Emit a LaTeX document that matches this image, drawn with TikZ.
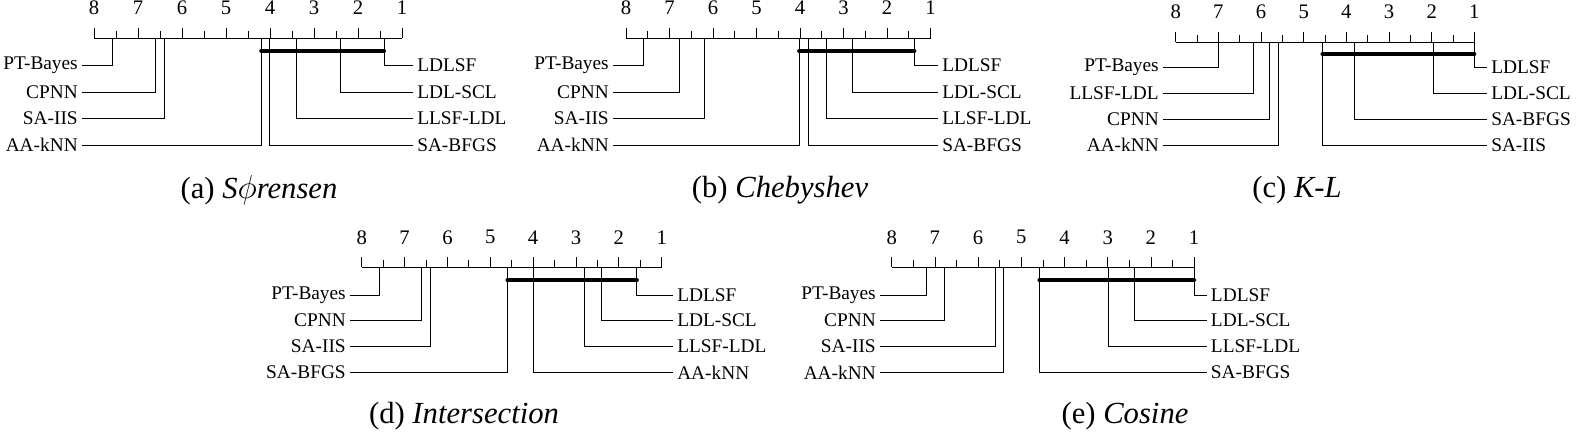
\documentclass[tikz,border=0pt]{standalone}
\usepackage{fontspec}
\setmainfont{Liberation Serif}
\tikzset{lab/.style={font=\fontsize{14.5}{14.5}\selectfont,inner sep=3pt},
 ticklab/.style={font=\fontsize{15.5}{15.5}\selectfont,inner sep=0pt},
 captext/.style={font=\fontsize{23}{23}\selectfont,inner sep=0pt},
 cdbar/.style={line width=3pt,line cap=round},
 thinl/.style={line width=0.6pt}}
\newcommand\cdset[5]{\def\px{#1}\def\pu{#2}\def\py{#3}\def\pl{#4}\def\pr{#5}}
\newcommand\cdaxis{%
 \draw[thinl] (\px,\py) -- ({\px+7*\pu},\py);
 \foreach \i in {0,...,7}{%
  \pgfmathtruncatemacro\lbl{8-\i}
  \draw[thinl] ({\px+\i*\pu},\py) -- ++(0,-10);
  \node[ticklab] at ({\px+\i*\pu},{\py-30}) {\lbl};}
 \foreach \i in {0,...,6}{\draw[thinl] ({\px+(\i+0.5)*\pu},\py) -- ++(0,-7);}}
\newcommand\cdleft[4]{%
 \node[lab,anchor=east] (#1) at (\pl,{\py+#3}) {#4};
 \draw[thinl] (#1.east) -| ({\px+(8-#2)*\pu},\py);}
\newcommand\cdright[4]{%
 \node[lab,anchor=west] (#1) at (\pr,{\py+#3}) {#4};
 \draw[thinl] (#1.west) -| ({\px+(8-#2)*\pu},\py);}
\newcommand\cdbarline[3]{\draw[cdbar] ({\px+(8-#1)*\pu},{\py+#3}) -- ({\px+(8-#2)*\pu},{\py+#3});}
\begin{document}
\begin{tikzpicture}[x=0.75pt,y=-0.75pt]
\useasboundingbox (0,0) rectangle (1585,439);
% (a)
\cdset{94}{44}{38}{82}{413}
\cdaxis
\cdbarline{4.2}{1.41}{13}
\cdleft{a1}{7.59}{27}{PT-Bayes}
\cdleft{a2}{6.61}{54}{CPNN}
\cdleft{a3}{6.41}{80}{SA-IIS}
\cdleft{a4}{4.2}{107}{AA-kNN}
\cdright{a5}{1.41}{27}{LDLSF}
\cdright{a6}{2.41}{54}{LDL-SCL}
\cdright{a7}{3.41}{80}{LLSF-LDL}
\cdright{a8}{4.02}{107}{SA-BFGS}
\node[captext] (ca) at (259,190) {(a) \textit{S}$\phi$\textit{rensen}};
% (b)
\cdset{626}{43.5}{38}{613}{938}
\cdaxis
\cdbarline{4.02}{1.37}{13}
\cdleft{b1}{7.59}{27}{PT-Bayes}
\cdleft{b2}{6.77}{54}{CPNN}
\cdleft{b3}{6.2}{80}{SA-IIS}
\cdleft{b4}{4.02}{107}{AA-kNN}
\cdright{b5}{1.37}{27}{LDLSF}
\cdright{b6}{2.8}{54}{LDL-SCL}
\cdright{b7}{3.39}{80}{LLSF-LDL}
\cdright{b8}{3.8}{107}{SA-BFGS}
\node[captext] (cb) at (780,190) {(b) \textit{Chebyshev}};
% (c)
\cdset{1175.7}{42.66}{42}{1163}{1487}
\cdaxis
\cdbarline{4.56}{1}{12}
\cdleft{c1}{7.0}{25}{PT-Bayes}
\cdleft{c2}{6.18}{51}{LLSF-LDL}
\cdleft{c3}{5.81}{77}{CPNN}
\cdleft{c4}{5.59}{103}{AA-kNN}
\cdright{c5}{1}{25}{LDLSF}
\cdright{c6}{1.97}{51}{LDL-SCL}
\cdright{c7}{3.8}{77}{SA-BFGS}
\cdright{c8}{4.56}{103}{SA-IIS}
\node[captext] (cc) at (1297,190) {(c) \textit{K-L}};
% (d)
\cdset{361.7}{42.86}{267.3}{350}{673}
\cdaxis
\cdbarline{4.6}{1.58}{13}
\cdleft{d1}{7.59}{28}{PT-Bayes}
\cdleft{d2}{6.6}{53}{CPNN}
\cdleft{d3}{6.39}{79}{SA-IIS}
\cdleft{d4}{4.6}{105}{SA-BFGS}
\cdright{d5}{1.58}{28}{LDLSF}
\cdright{d6}{2.4}{53}{LDL-SCL}
\cdright{d7}{2.81}{79}{LLSF-LDL}
\cdright{d8}{4.0}{105}{AA-kNN}
\node[captext] (cd) at (464,416) {(d) \textit{Intersection}};
% (e)
\cdset{891.7}{43.2}{267.3}{880}{1206.7}
\cdaxis
\cdbarline{4.58}{1}{13}
\cdleft{e1}{7.19}{28}{PT-Bayes}
\cdleft{e2}{6.79}{53}{CPNN}
\cdleft{e3}{5.59}{79}{SA-IIS}
\cdleft{e4}{5.42}{105}{AA-kNN}
\cdright{e5}{1}{28}{LDLSF}
\cdright{e6}{2.39}{53}{LDL-SCL}
\cdright{e7}{2.99}{79}{LLSF-LDL}
\cdright{e8}{4.58}{105}{SA-BFGS}
\node[captext] (ce) at (1125,416) {(e) \textit{Cosine}};
\end{tikzpicture}
\end{document}
